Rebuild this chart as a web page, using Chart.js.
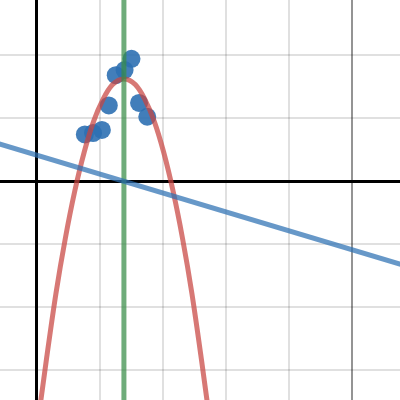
<!DOCTYPE html>
<html>
<head>
<meta charset="utf-8">
<script src="https://cdn.jsdelivr.net/npm/chart.js@4/dist/chart.umd.min.js"></script>
<style>
    html, body { margin: 0; padding: 0; background: #fff; }
    #wrap { width: 400px; height: 400px; }
</style>
</head>
<body>
<div id="wrap"><canvas id="graphChart" width="400" height="400"></canvas></div>
<script>
// Data points
const pointX = [1.50, 1.39, 1.25, 1.14, 1.62, 1.75, 0.76, 0.89, 1.03];
const pointY = [1.94, 1.76, 1.68, 1.20, 1.24, 1.02, 0.74, 0.76, 0.81];

// Red parabola, sampled along the drawn curve
const curveX = [0.00, 0.15, 0.30, 0.45, 0.60, 0.75, 0.90, 1.05, 1.20, 1.38, 1.56, 1.71, 1.86, 2.01, 2.16, 2.31, 2.46, 2.61, 2.76];
const curveY = [-3.94, -2.83, -1.79, -0.91, -0.16, 0.46, 0.95, 1.30, 1.53, 1.62, 1.53, 1.30, 0.95, 0.46, -0.16, -0.91, -1.79, -2.83, -3.94];

// Green vertical line
const vertX = [1.38, 1.38];
const vertY = [-4, 4];

// Blue straight line
const lineX = [-1, 6];
const lineY = [0.71, -1.39];

// Visible window and grid ticks
const xRange = [-0.587, 5.762];
const yRange = [-3.476, 2.873];
const xTicks = [0, 1, 2, 3, 4, 5];
const yTicks = [-3, -2, -1, 0, 1, 2];

function toXY(xs, ys) {
    return xs.map((x, i) => ({ x: x, y: ys[i] }));
}

function gridColor(ctx) {
    const v = ctx.tick.value;
    if (v === 0) return '#000';
    if (v === 5 || v === -5) return 'rgba(0,0,0,0.42)';
    return 'rgba(0,0,0,0.12)';
}

function gridWidth(ctx) {
    return ctx.tick.value === 0 ? 3 : 2;
}

const gridOpts = {
    color: gridColor,
    lineWidth: gridWidth,
    drawTicks: false,
    tickLength: 0
};

new Chart(document.getElementById('graphChart').getContext('2d'), {
    type: 'scatter',
    data: {
        datasets: [
            {
                // blue line
                data: toXY(lineX, lineY),
                showLine: true,
                borderColor: 'rgba(45,112,179,0.72)',
                borderWidth: 5,
                pointRadius: 0,
                fill: false
            },
            {
                // green vertical
                data: toXY(vertX, vertY),
                showLine: true,
                borderColor: 'rgba(56,140,70,0.72)',
                borderWidth: 5,
                pointRadius: 0,
                fill: false
            },
            {
                // red parabola
                data: toXY(curveX, curveY),
                showLine: true,
                borderColor: 'rgba(199,68,64,0.72)',
                borderWidth: 5,
                pointRadius: 0,
                tension: 0.4,
                cubicInterpolationMode: 'monotone',
                fill: false
            },
            {
                // points
                data: toXY(pointX, pointY),
                backgroundColor: 'rgba(45,112,179,0.9)',
                borderWidth: 0,
                pointRadius: 9,
                pointHoverRadius: 9
            }
        ]
    },
    options: {
        responsive: false,
        animation: false,
        layout: { padding: 0, autoPadding: false },
        plugins: {
            legend: { display: false },
            tooltip: { enabled: false }
        },
        scales: {
            x: {
                type: 'linear',
                min: xRange[0],
                max: xRange[1],
                ticks: { display: false },
                afterBuildTicks: (scale) => { scale.ticks = xTicks.map(v => ({ value: v })); },
                grid: gridOpts,
                border: { display: false }
            },
            y: {
                type: 'linear',
                min: yRange[0],
                max: yRange[1],
                ticks: { display: false },
                afterBuildTicks: (scale) => { scale.ticks = yTicks.map(v => ({ value: v })); },
                grid: gridOpts,
                border: { display: false }
            }
        }
    }
});
</script>
</body>
</html>
